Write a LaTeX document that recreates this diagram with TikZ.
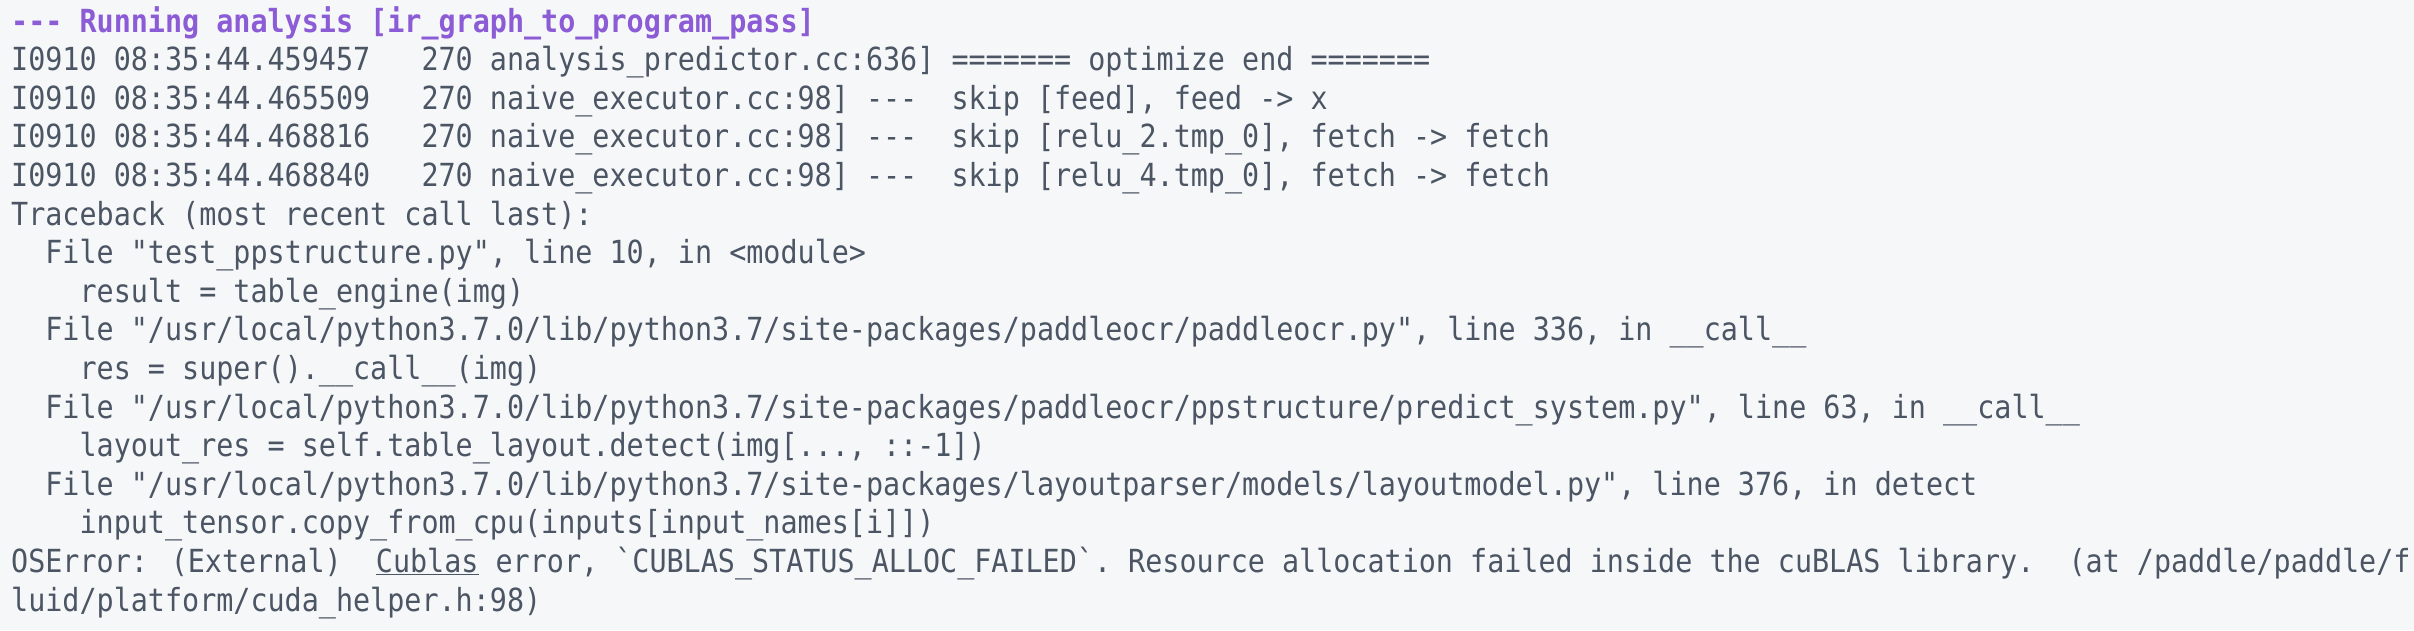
\documentclass[tikz,border=0pt]{standalone}
\usepackage{fontspec}
\newfontfamily\mono{DejaVu Sans Mono}
\definecolor{bg}{HTML}{F6F7F9}
\definecolor{txt}{HTML}{4B5563}
\definecolor{hdr}{HTML}{8B5CD6}
\begin{document}
\begin{tikzpicture}[x=1pt,y=-1pt,
  ln/.style={anchor=base west,inner sep=0pt,font=\mono\fontsize{28.4}{34}\selectfont,text=txt,yscale=1.12},
  hd/.style={ln,text=hdr,font=\mono\bfseries\fontsize{28.4}{34}\selectfont}]
\fill[bg] (0,0) rectangle (2414,630);
\useasboundingbox (0,0) rectangle (2414,630);
\def\L{38.6}
\node[hd] (l0) at (11,32) {-{}-{}- Running analysis [ir\_graph\_to\_program\_pass]};
\node[ln] (l1) at (11,32+\L) {I0910 08:35:44.459457\ \ \ 270 analysis\_predictor.cc:636] =======\ optimize end =======};
\node[ln] (l2) at (11,32+2*\L) {I0910 08:35:44.465509\ \ \ 270 naive\_executor.cc:98] -{}-{}-\ \ skip [feed], feed -> x};
\node[ln] (l3) at (11,32+3*\L) {I0910 08:35:44.468816\ \ \ 270 naive\_executor.cc:98] -{}-{}-\ \ skip [relu\_2.tmp\_0], fetch -> fetch};
\node[ln] (l4) at (11,32+4*\L) {I0910 08:35:44.468840\ \ \ 270 naive\_executor.cc:98] -{}-{}-\ \ skip [relu\_4.tmp\_0], fetch -> fetch};
\node[ln] (l5) at (11,32+5*\L) {Traceback (most recent call last):};
\node[ln] (l6) at (11,32+6*\L) {\ \ File "test\_ppstructure.py", line 10, in <module>};
\node[ln] (l7) at (11,32+7*\L) {\ \ \ \ result = table\_engine(img)};
\node[ln] (l8) at (11,32+8*\L) {\ \ File "/usr/local/python3.7.0/lib/python3.7/site-packages/paddleocr/paddleocr.py", line 336, in \_\_call\_\_};
\node[ln] (l9) at (11,32+9*\L) {\ \ \ \ res = super().\_\_call\_\_(img)};
\node[ln] (l10) at (11,32+10*\L) {\ \ File "/usr/local/python3.7.0/lib/python3.7/site-packages/paddleocr/ppstructure/predict\_system.py", line 63, in \_\_call\_\_};
\node[ln] (l11) at (11,32+11*\L) {\ \ \ \ layout\_res = self.table\_layout.detect(img[..., ::-1])};
\node[ln] (l12) at (11,32+12*\L) {\ \ File "/usr/local/python3.7.0/lib/python3.7/site-packages/layoutparser/models/layoutmodel.py", line 376, in detect};
\node[ln] (l13) at (11,32+13*\L) {\ \ \ \ input\_tensor.copy\_from\_cpu(inputs[input\_names[i]])};
\node[ln] (l14) at (11,32+14*\L) {OSError: (External)\ \ \underline{Cublas} error, \textasciigrave CUBLAS\_STATUS\_ALLOC\_FAILED\textasciigrave. Resource allocation failed inside the cuBLAS library.\ \ (at /paddle/paddle/f};
\node[ln] (l15) at (11,32+15*\L) {luid/platform/cuda\_helper.h:98)};
\end{tikzpicture}
\end{document}
